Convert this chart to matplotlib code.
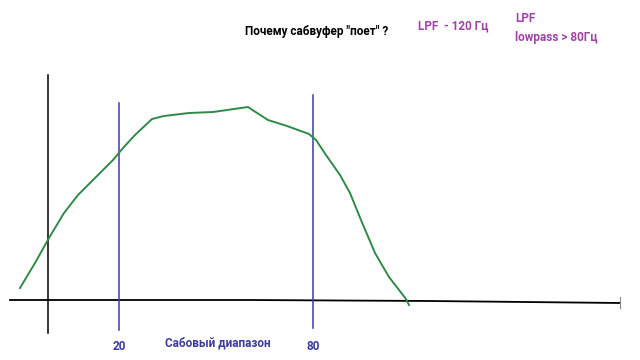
import matplotlib
matplotlib.use("Agg")
import matplotlib.pyplot as plt

# hand-drawn response curve, in picture pixels (x right, y down)
curve_x = [20, 35, 49, 64, 78, 98, 113, 123, 135, 152, 164, 189, 213, 234, 248,
           254, 268, 287, 309, 316, 326, 340, 350, 361, 375, 389, 406, 409]
curve_y = [288, 263, 238, 213, 195, 175, 160, 148, 135, 119, 116, 113, 112, 109, 107,
           111, 120, 126, 134, 140, 155, 175, 193, 220, 253, 277, 299, 305]

axis_x = [10, 250, 430, 620]
axis_y = [300, 300, 301, 303]

marker_x = [119, 313]
marker_top = [103, 95]
marker_bottom = [330, 328]
marker_labels = ["20", "80"]

title = 'Почему сабвуфер "поет" ?'
note_1 = "LPF  - 120 Гц"
note_2 = "LPF\nlowpass > 80Гц"
range_label = "Сабовый диапазон"

FONT = ["Roboto", "DejaVu Sans"]
PURPLE = "#a043a6"
BLUE = "#3c3ca0"
FS = 8.5

fig = plt.figure(figsize=(6.4, 3.6), dpi=100)
ax = fig.add_axes([0, 0, 1, 1])
ax.set_xlim(0, 640)
ax.set_ylim(360, 0)
ax.axis("off")

# axes drawn by hand
ax.plot(axis_x, axis_y, color="black", lw=1.3)
ax.plot([48, 48], [75, 333], color="black", lw=1.1)
ax.plot([620, 620], [297, 308], color="#888888", lw=0.8)

# 20 / 80 markers
for x, top, bottom in zip(marker_x, marker_top, marker_bottom):
    ax.plot([x, x], [top, bottom], color="#3a3aa8", lw=1.1)

ax.plot(curve_x, curve_y, color="#2f8a4a", lw=1.4)

ax.text(245, 31, title, fontsize=FS, fontweight="bold", family=FONT,
        color="black", va="center", ha="left")
ax.text(418, 26, note_1, fontsize=FS, fontweight="bold", family=FONT,
        color=PURPLE, va="center", ha="left")
ax.text(515, 28, note_2, fontsize=FS, fontweight="bold", family=FONT,
        color=PURPLE, va="center", ha="left", linespacing=1.5)

for x, lab in zip(marker_x, marker_labels):
    ax.text(x, 347, lab, fontsize=FS, fontweight="bold", family=FONT,
            color=BLUE, va="center", ha="center")
ax.text(165, 343, range_label, fontsize=FS, fontweight="bold", family=FONT,
        color=BLUE, va="center", ha="left")

fig.savefig("out.png", dpi=100)
